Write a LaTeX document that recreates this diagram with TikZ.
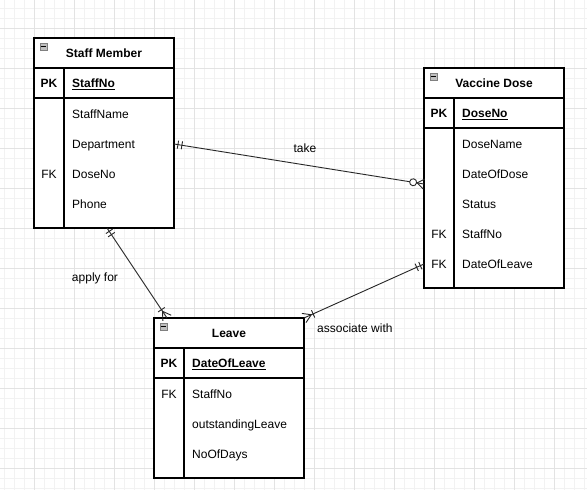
\documentclass[tikz,border=0pt]{standalone}
\usepackage{fontspec}
\setmainfont{Liberation Sans}
\usetikzlibrary{calc,decorations.markings}
\begin{document}
\begin{tikzpicture}[x=1pt,y=-1pt,
  font=\fontsize{12}{14}\selectfont,
  tbox/.style={draw=black, line width=1.1pt, inner sep=0pt},
  sep/.style={draw=black, line width=1.1pt},
  ttl/.style={font=\fontsize{12}{14}\selectfont\bfseries, inner sep=0pt, text height=8.6pt, text depth=0pt},
  attr/.style={anchor=west, inner sep=0pt, text height=8.6pt, text depth=0pt},
  keyattr/.style={attr, font=\fontsize{12}{14}\selectfont\bfseries},
  lbl/.style={inner sep=0pt, text height=8.6pt, text depth=0pt},
  icon/.style={draw=black!50, fill=black!25, line width=0.6pt, minimum size=7pt, inner sep=0pt},
  minor/.style={draw=black!5, line width=0.8pt},
  major/.style={draw=black!11, line width=0.8pt},
  conn/.style={draw=black!85, line width=0.9pt},
  mk/.style={draw=black!85, line width=0.9pt},
  oneS/.style={postaction={decorate,decoration={markings,
    mark=at position 4pt with {\draw[mk] (0pt,-4pt) -- (0pt,4pt);},
    mark=at position 8pt with {\draw[mk] (0pt,-4pt) -- (0pt,4pt);}}}},
  oneE/.style={postaction={decorate,decoration={markings,
    mark=at position -8pt with {\draw[mk] (0pt,-4pt) -- (0pt,4pt);},
    mark=at position -4pt with {\draw[mk] (0pt,-4pt) -- (0pt,4pt);}}}},
  zmanyE/.style={postaction={decorate,decoration={markings,
    mark=at position -11pt with {\draw[mk, fill=white] (0pt,0pt) circle (3.5pt);},
    mark=at position -7pt with {\draw[mk] (7pt,-5pt) -- (0pt,0pt) -- (7pt,5pt);}}}},
  omanyE/.style={postaction={decorate,decoration={markings,
    mark=at position -10pt with {\draw[mk] (0pt,-4pt) -- (0pt,4pt);},
    mark=at position -8pt with {\draw[mk] (8pt,-5pt) -- (0pt,0pt) -- (8pt,5pt);}}}},
  omanyS/.style={postaction={decorate,decoration={markings,
    mark=at position 8pt with {\draw[mk] (-8pt,-5pt) -- (0pt,0pt) -- (-8pt,5pt);},
    mark=at position 10pt with {\draw[mk] (0pt,-4pt) -- (0pt,4pt);}}}}
]
\useasboundingbox (0,0) rectangle (587,490);
\fill[white] (0,0) rectangle (587,490);
% grid
\foreach \x in {4,14,...,584} \draw[minor] (\x,0) -- (\x,490);
\foreach \y in {8,18,...,488} \draw[minor] (0,\y) -- (587,\y);
\foreach \x in {34,74,...,574} \draw[major] (\x,0) -- (\x,490);
\foreach \y in {28,68,...,468} \draw[major] (0,\y) -- (587,\y);

% ---------- Staff Member ----------
\node[tbox, fill=white, minimum width=140pt, minimum height=190pt] (staff) at (104,133) {};
\draw[sep] (34,68) -- (174,68);
\draw[sep] (34,98) -- (174,98);
\draw[sep] (64,68) -- (64,228);
\node[icon] (staffI) at (43.5,46.5) {};
\draw[black, line width=0.8pt] (41.3,46.5) -- (45.7,46.5);
\node[ttl] (staffT) at (104,53) {Staff Member};
\node[ttl] (staffPK) at (49,83.5) {PK};
\node[keyattr] (staffK) at (72,83.5) {\underline{StaffNo}};
\node[attr] (staffA1) at (72,114) {StaffName};
\node[attr] (staffA2) at (72,144) {Department};
\node[lbl] (staffFK) at (49,174) {FK};
\node[attr] (staffA3) at (72,174) {DoseNo};
\node[attr] (staffA4) at (72,204) {Phone};

% ---------- Vaccine Dose ----------
\node[tbox, fill=white, minimum width=140pt, minimum height=220pt] (vacc) at (494,178) {};
\draw[sep] (424,98) -- (564,98);
\draw[sep] (424,128) -- (564,128);
\draw[sep] (454,98) -- (454,288);
\node[icon] (vaccI) at (433.5,76.5) {};
\draw[black, line width=0.8pt] (431.3,76.5) -- (435.7,76.5);
\node[ttl] (vaccT) at (494,83) {Vaccine Dose};
\node[ttl] (vaccPK) at (439,113.5) {PK};
\node[keyattr] (vaccK) at (462,113.5) {\underline{DoseNo}};
\node[attr] (vaccA1) at (462,144) {DoseName};
\node[attr] (vaccA2) at (462,174) {DateOfDose};
\node[attr] (vaccA3) at (462,204) {Status};
\node[lbl] (vaccFK1) at (439,234) {FK};
\node[attr] (vaccA4) at (462,234) {StaffNo};
\node[lbl] (vaccFK2) at (439,264) {FK};
\node[attr] (vaccA5) at (462,264) {DateOfLeave};

% ---------- Leave ----------
\node[tbox, fill=white, minimum width=150pt, minimum height=160pt] (leave) at (229,398) {};
\draw[sep] (154,348) -- (304,348);
\draw[sep] (154,378) -- (304,378);
\draw[sep] (184,348) -- (184,478);
\node[icon] (leaveI) at (163.5,326.5) {};
\draw[black, line width=0.8pt] (161.3,326.5) -- (165.7,326.5);
\node[ttl] (leaveT) at (229,333.5) {Leave};
\node[ttl] (leavePK) at (169,363.5) {PK};
\node[keyattr] (leaveK) at (192,363.5) {\underline{DateOfLeave}};
\node[lbl] (leaveFK) at (169,394) {FK};
\node[attr] (leaveA1) at (192,394) {StaffNo};
\node[attr] (leaveA2) at (192,424) {outstandingLeave};
\node[attr] (leaveA3) at (192,454) {NoOfDays};

% ---------- connectors ----------
\coordinate (sR) at (174,144);
\coordinate (vL1) at (424,184);
\coordinate (sB) at (107,228);
\coordinate (lT) at (167,318);
\coordinate (lTR) at (304,318);
\coordinate (vL2) at (424,264);
\draw[conn, oneS, zmanyE] (sR) -- (vL1);
\draw[conn, oneS, omanyE] (sB) -- (lT);
\draw[conn, omanyS, oneE] (lTR) -- (vL2);

\node[lbl] (take) at (305,148) {take};
\node[lbl] (applyfor) at (95,277) {apply for};
\node[lbl, anchor=west] (assoc) at (317,328.5) {associate with};
\end{tikzpicture}
\end{document}
